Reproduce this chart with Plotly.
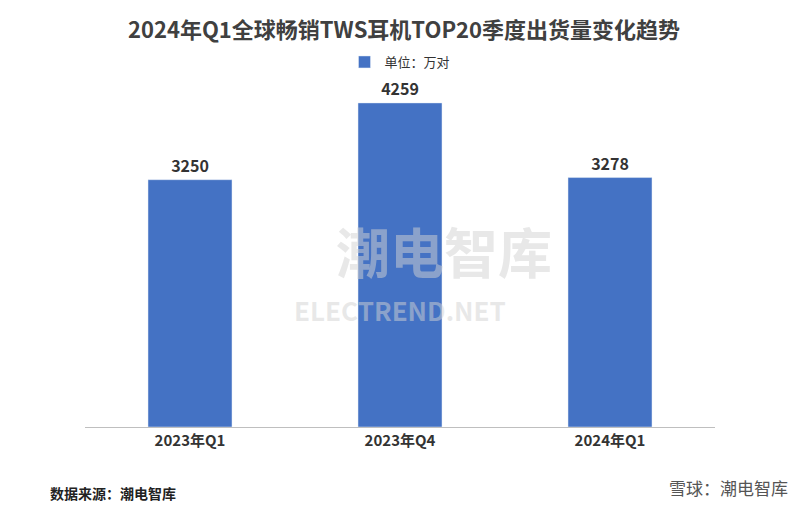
import plotly.graph_objects as go

categories = ["2023年Q1", "2023年Q4", "2024年Q1"]
values = [3250, 4259, 3278]
series_name = "单位：万对"

W, H = 792, 502
L, R, T, B = 77, 85, 72, 83
PW, PH = W - L - R, H - T - B

fig = go.Figure(go.Bar(
    x=categories, y=values, name=series_name,
    marker_color="#4472C4",
    text=["<b>%d</b>" % v for v in values], textposition="outside",
    textfont=dict(size=16, color="#333333", family="Noto Sans CJK SC"),
    cliponaxis=False,
))
fig.update_layout(
    width=W, height=H,
    margin=dict(l=L, r=R, t=T, b=B),
    paper_bgcolor="white", plot_bgcolor="white",
    bargap=0.6,
    showlegend=True,
    legend=dict(orientation="h", x=0.5, xanchor="center", y=1 + 3/PH, yanchor="bottom",
                tracegroupgap=0, itemwidth=30,
                font=dict(size=13, color="#333333", family="Noto Sans CJK SC")),
    title=dict(text="<b>2024年Q1全球畅销TWS耳机TOP20季度出货量变化趋势</b>",
               x=0.5, xanchor="center", y=1 - 22/H, yanchor="middle",
               font=dict(size=22, color="#404040", family="Noto Sans CJK SC")),
    font=dict(family="Noto Sans CJK SC"),
    xaxis=dict(showline=True, linecolor="#bfbfbf", linewidth=1, ticks="",
               tickfont=dict(size=15, color="#333333"), range=[-0.5, 2.5],
               tickvals=categories, ticktext=["<b>%s</b>" % c for c in categories]),
    yaxis=dict(visible=False, range=[0, 4560]),
    annotations=[
        dict(text="<b>数据来源：潮电智库</b>", xref="paper", yref="paper",
             x=-37/PW, y=-(493-8-T-PH)/PH, xanchor="left", yanchor="middle", showarrow=False,
             font=dict(size=14, color="#222222")),
        dict(text="雪球：潮电智库", xref="paper", yref="paper",
             x=1 + 75/PW, y=-(487-8-T-PH)/PH, xanchor="right", yanchor="middle", showarrow=False,
             font=dict(size=17, color="#555555")),
        dict(text="<b>潮电智库</b>", xref="paper", yref="paper", x=0.57, y=0.51,
             showarrow=False, font=dict(size=54, color="rgba(210,210,210,0.5)")),
        dict(text="<b>ELECTREND.NET</b>", xref="paper", yref="paper", x=0.5, y=0.34,
             showarrow=False, font=dict(size=26, color="rgba(210,210,210,0.5)")),
    ],
)
fig.write_html("out.html")
